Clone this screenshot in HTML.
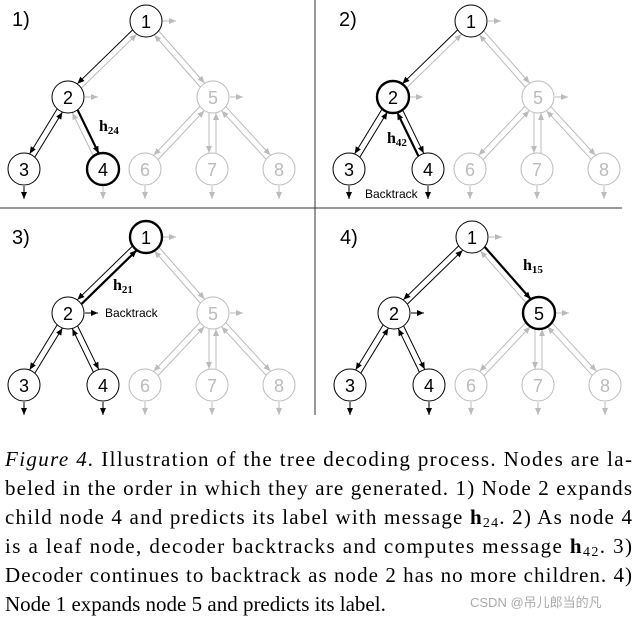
<!DOCTYPE html>
<html><head><meta charset="utf-8"><style>
html,body{margin:0;padding:0;background:#fff}
svg{display:block}
.k{stroke:#000;stroke-width:1;fill:none;marker-end:url(#mk)}
.g{stroke:#bbb;stroke-width:1;fill:none;marker-end:url(#mg)}
.t{stroke:#000;stroke-width:2.2;fill:none;marker-end:url(#mk)}
circle.k,circle.g,circle.t{fill:#fff;marker-end:none}
circle.t{stroke-width:2.4}
.nk{font:18px "Liberation Sans",sans-serif;fill:#000;text-anchor:middle}
.ng{font:18px "Liberation Sans",sans-serif;fill:#bbb;text-anchor:middle}
.pl{font:20px "Liberation Sans",sans-serif;fill:#000}
.h{font:bold 16px "Liberation Serif",serif;fill:#000}
.bt{font:12px "Liberation Sans",sans-serif;fill:#000}
.cap{font:21px "Liberation Serif",serif;fill:#000}
</style></head><body>
<svg width="644" height="617" viewBox="0 0 644 617" xmlns="http://www.w3.org/2000/svg">
<defs>
<marker id="mk" markerUnits="userSpaceOnUse" markerWidth="8" markerHeight="8" refX="7" refY="4" orient="auto"><path d="M0,1 L7,4 L0,7 z" fill="#000"/></marker>
<marker id="mg" markerUnits="userSpaceOnUse" markerWidth="8" markerHeight="8" refX="7" refY="4" orient="auto"><path d="M0,1 L7,4 L0,7 z" fill="#bbb"/></marker>
<g id="gray">
<line class="g" x1="199.8" y1="104.5" x2="153.8" y2="153.3"/><line class="g" x1="158.2" y1="157.5" x2="204.2" y2="108.7"/>
<line class="g" x1="209" y1="111" x2="209" y2="151"/><line class="g" x1="216" y1="151" x2="216" y2="111"/>
<line class="g" x1="226" y1="104.8" x2="270.4" y2="153.2"/><line class="g" x1="266" y1="157.2" x2="221.6" y2="108.8"/>
<circle class="g" cx="145" cy="167" r="16"/><circle class="g" cx="212" cy="167" r="16"/><circle class="g" cx="279" cy="167" r="16"/>
<text class="ng" x="145" y="174">6</text><text class="ng" x="212" y="174">7</text><text class="ng" x="279" y="174">8</text>
<line class="g" x1="145" y1="184" x2="145" y2="197"/><line class="g" x1="212" y1="184" x2="212" y2="197"/><line class="g" x1="279" y1="184" x2="279" y2="197"/>
<line class="g" x1="163" y1="19" x2="176" y2="19"/>
</g>
</defs>
<line x1="315" y1="0" x2="315" y2="415" stroke="#333" stroke-width="1"/>
<line x1="0" y1="208" x2="622" y2="208" stroke="#333" stroke-width="1"/>

<!-- Panel 1 -->
<g transform="translate(0,2)">
<text class="pl" x="12" y="24">1)</text>
<use href="#gray"/>
<line class="k" x1="132.4" y1="28.1" x2="77.4" y2="81.7"/><line class="g" x1="81.6" y1="85.9" x2="136.6" y2="32.3"/>
<line class="g" x1="158.8" y1="29" x2="204.6" y2="81"/><line class="g" x1="200.2" y1="85" x2="154.4" y2="33"/>
<line class="k" x1="57.1" y1="107" x2="29.7" y2="151.8"/><line class="k" x1="34.9" y1="155" x2="62.3" y2="110.2"/>
<line class="t" x1="77.7" y1="108.1" x2="98.7" y2="151.3"/><line class="g" x1="93.3" y1="153.9" x2="72.3" y2="110.7"/>
<circle class="k" cx="146" cy="19" r="16"/><text class="nk" x="146" y="26">1</text>
<circle class="k" cx="68" cy="95" r="16"/><text class="nk" x="68" y="102">2</text>
<circle class="k" cx="24" cy="167" r="16"/><text class="nk" x="24" y="174">3</text>
<circle class="t" cx="103" cy="167" r="16"/><text class="nk" x="103" y="174">4</text>
<circle class="g" cx="213" cy="95" r="16"/><text class="ng" x="213" y="102">5</text>
<line class="g" x1="85" y1="95" x2="98" y2="95"/><line class="g" x1="230" y1="95" x2="243" y2="95"/>
<line class="k" x1="24" y1="184" x2="24" y2="197"/><line class="g" x1="103" y1="184" x2="103" y2="197"/>
<text class="h" x="99" y="129">h<tspan font-size="11" dy="3">24</tspan></text>
</g>

<!-- Panel 2 -->
<g transform="translate(325,2)">
<text class="pl" x="14" y="24">2)</text>
<use href="#gray"/>
<line class="k" x1="132.4" y1="28.1" x2="77.4" y2="81.7"/><line class="g" x1="81.6" y1="85.9" x2="136.6" y2="32.3"/>
<line class="g" x1="158.8" y1="29" x2="204.6" y2="81"/><line class="g" x1="200.2" y1="85" x2="154.4" y2="33"/>
<line class="k" x1="57.1" y1="107" x2="29.7" y2="151.8"/><line class="k" x1="34.9" y1="155" x2="62.3" y2="110.2"/>
<line class="k" x1="77.7" y1="108.1" x2="98.7" y2="151.3"/><line class="t" x1="93.3" y1="153.9" x2="72.3" y2="110.7"/>
<circle class="k" cx="146" cy="19" r="16"/><text class="nk" x="146" y="26">1</text>
<circle class="t" cx="68" cy="95" r="16"/><text class="nk" x="68" y="102">2</text>
<circle class="k" cx="24" cy="167" r="16"/><text class="nk" x="24" y="174">3</text>
<circle class="k" cx="103" cy="167" r="16"/><text class="nk" x="103" y="174">4</text>
<circle class="g" cx="213" cy="95" r="16"/><text class="ng" x="213" y="102">5</text>
<line class="g" x1="85" y1="95" x2="98" y2="95"/><line class="g" x1="230" y1="95" x2="243" y2="95"/>
<line class="k" x1="24" y1="184" x2="24" y2="197"/><line class="k" x1="103" y1="184" x2="103" y2="197"/>
<text class="h" x="62" y="141">h<tspan font-size="11" dy="3">42</tspan></text>
<text class="bt" x="40" y="196">Backtrack</text>
</g>

<!-- Panel 3 -->
<g transform="translate(0,218)">
<text class="pl" x="12" y="26">3)</text>
<use href="#gray"/>
<line class="k" x1="132.4" y1="28.1" x2="77.4" y2="81.7"/><line class="t" x1="81.6" y1="85.9" x2="136.6" y2="32.3"/>
<line class="g" x1="158.8" y1="29" x2="204.6" y2="81"/><line class="g" x1="200.2" y1="85" x2="154.4" y2="33"/>
<line class="k" x1="57.1" y1="107" x2="29.7" y2="151.8"/><line class="k" x1="34.9" y1="155" x2="62.3" y2="110.2"/>
<line class="k" x1="77.7" y1="108.1" x2="98.7" y2="151.3"/><line class="k" x1="93.3" y1="153.9" x2="72.3" y2="110.7"/>
<circle class="t" cx="146" cy="19" r="16"/><text class="nk" x="146" y="26">1</text>
<circle class="k" cx="68" cy="95" r="16"/><text class="nk" x="68" y="102">2</text>
<circle class="k" cx="24" cy="167" r="16"/><text class="nk" x="24" y="174">3</text>
<circle class="k" cx="103" cy="167" r="16"/><text class="nk" x="103" y="174">4</text>
<circle class="g" cx="213" cy="95" r="16"/><text class="ng" x="213" y="102">5</text>
<line class="k" x1="85" y1="95" x2="98" y2="95"/><line class="g" x1="230" y1="95" x2="243" y2="95"/>
<line class="k" x1="24" y1="184" x2="24" y2="197"/><line class="k" x1="103" y1="184" x2="103" y2="197"/>
<text class="h" x="113" y="72">h<tspan font-size="11" dy="3">21</tspan></text>
<text class="bt" x="105" y="99">Backtrack</text>
</g>

<!-- Panel 4 -->
<g transform="translate(326,218)">
<text class="pl" x="14" y="26">4)</text>
<use href="#gray"/>
<line class="k" x1="132.4" y1="28.1" x2="77.4" y2="81.7"/><line class="k" x1="81.6" y1="85.9" x2="136.6" y2="32.3"/>
<line class="t" x1="158.8" y1="29" x2="204.6" y2="81"/><line class="g" x1="200.2" y1="85" x2="154.4" y2="33"/>
<line class="k" x1="57.1" y1="107" x2="29.7" y2="151.8"/><line class="k" x1="34.9" y1="155" x2="62.3" y2="110.2"/>
<line class="k" x1="77.7" y1="108.1" x2="98.7" y2="151.3"/><line class="k" x1="93.3" y1="153.9" x2="72.3" y2="110.7"/>
<circle class="k" cx="146" cy="19" r="16"/><text class="nk" x="146" y="26">1</text>
<circle class="k" cx="68" cy="95" r="16"/><text class="nk" x="68" y="102">2</text>
<circle class="k" cx="24" cy="167" r="16"/><text class="nk" x="24" y="174">3</text>
<circle class="k" cx="103" cy="167" r="16"/><text class="nk" x="103" y="174">4</text>
<circle class="t" cx="213" cy="95" r="16"/><text class="nk" x="213" y="102">5</text>
<line class="k" x1="85" y1="95" x2="98" y2="95"/><line class="g" x1="230" y1="95" x2="243" y2="95"/>
<line class="k" x1="24" y1="184" x2="24" y2="197"/><line class="k" x1="103" y1="184" x2="103" y2="197"/>
<text class="h" x="197" y="52">h<tspan font-size="11" dy="3">15</tspan></text>
</g>

<!-- Caption -->
<text class="cap" x="5" y="466" textLength="627" lengthAdjust="spacing"><tspan font-style="italic">Figure 4.</tspan> Illustration of the tree decoding process.  Nodes are la-</text>
<text class="cap" x="5" y="495" textLength="627" lengthAdjust="spacing">beled in the order in which they are generated. 1) Node 2 expands</text>
<text class="cap" x="5" y="524" textLength="627" lengthAdjust="spacing">child node 4 and predicts its label with message <tspan font-weight="bold">h</tspan><tspan font-size="14" dy="3">24</tspan><tspan dy="-3">. 2) As node 4</tspan></text>
<text class="cap" x="5" y="553" textLength="627" lengthAdjust="spacing">is a leaf node, decoder backtracks and computes message <tspan font-weight="bold">h</tspan><tspan font-size="14" dy="3">42</tspan><tspan dy="-3">. 3)</tspan></text>
<text class="cap" x="5" y="582" textLength="627" lengthAdjust="spacing">Decoder continues to backtrack as node 2 has no more children. 4)</text>
<text class="cap" x="5" y="611">Node 1 expands node 5 and predicts its label.</text>
<text x="470" y="607" style="font:13px 'Liberation Sans','Noto Sans CJK SC',sans-serif;fill:#aaa">CSDN @吊儿郎当的凡</text>
</svg>
</body></html>
